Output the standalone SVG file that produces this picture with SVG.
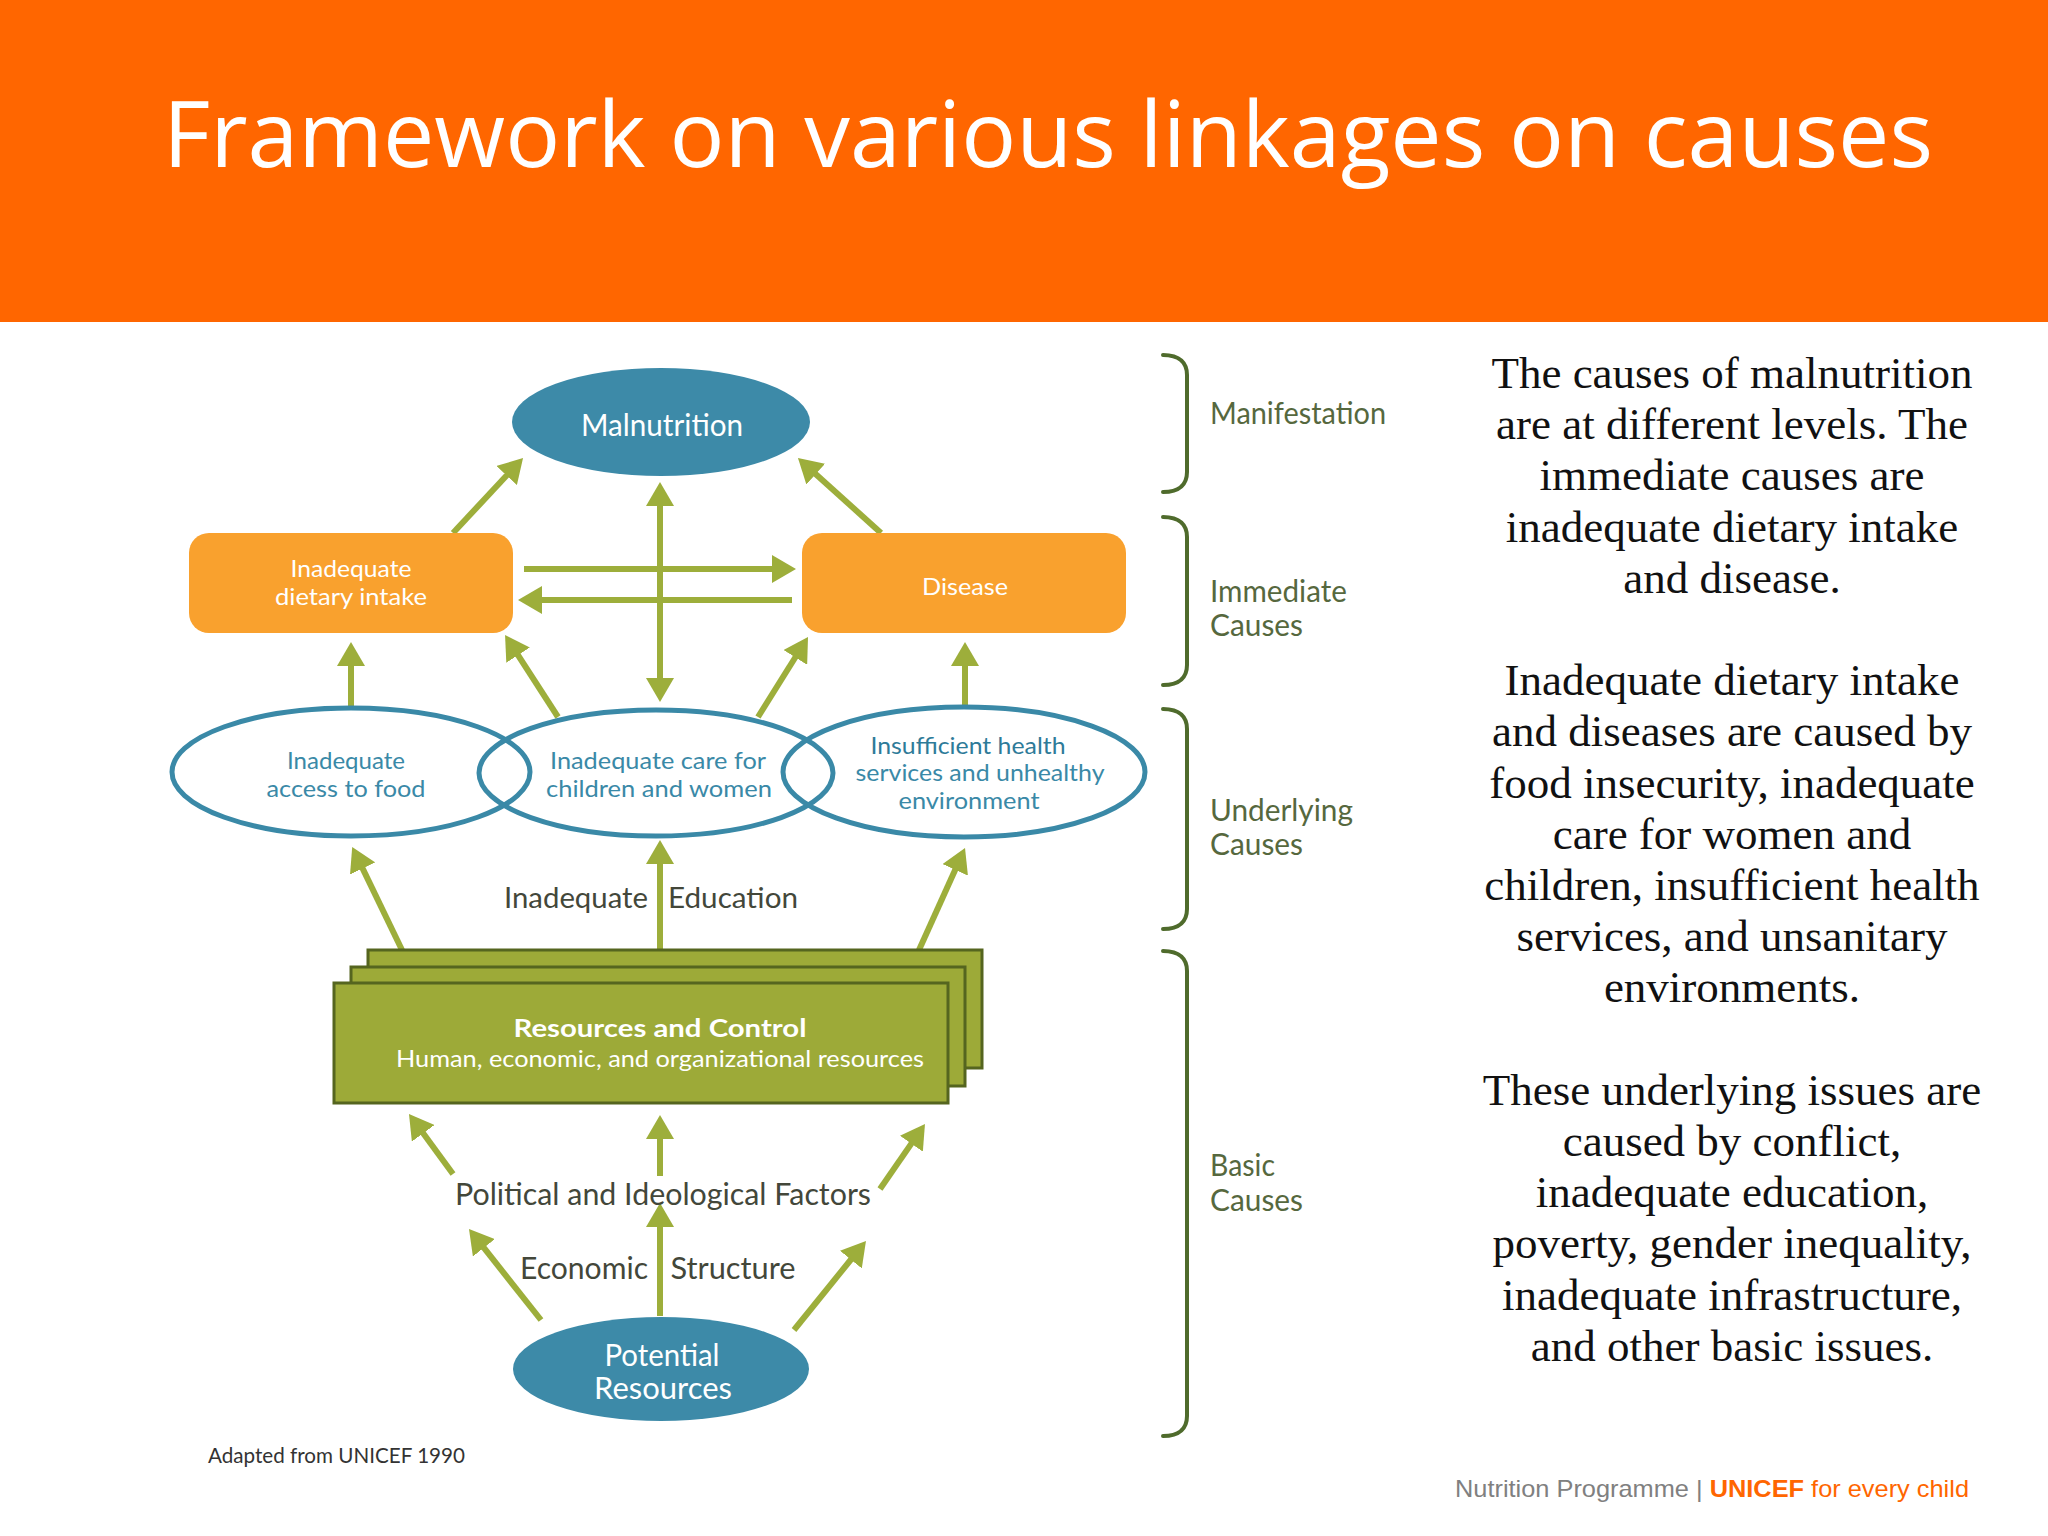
<svg xmlns="http://www.w3.org/2000/svg" width="2048" height="1536" viewBox="0 0 2048 1536">
<defs>
<style>
.arr{stroke:#9DAE3B;stroke-width:6;fill:none;marker-end:url(#ah)}
.dbl{stroke:#9DAE3B;stroke-width:6;fill:none;marker-end:url(#ah);marker-start:url(#ah)}
.brace{stroke:#4F6B2C;stroke-width:4;fill:none;stroke-linecap:round}
.ell{fill:none;stroke:#3A89A7;stroke-width:5}
.tealfill{fill:#3D8AA8}
.obox{fill:#F9A12E}
.rc{fill:#9DAA38;stroke:#55651F;stroke-width:3}
.d{font-family:Lato,"Open Sans","Liberation Sans",sans-serif;text-anchor:middle}
.w{fill:#FFFFFF}
.t{fill:#3A89A7}
.g{fill:#43473A}
.side{font-family:Lato,"Open Sans","Liberation Sans",sans-serif;fill:#56683E;font-size:30px}
.para{font-family:"Liberation Serif","Times New Roman",serif;font-size:45px;fill:#111111;text-anchor:middle}
</style>
<marker id="ah" viewBox="0 0 24 28" markerWidth="24" markerHeight="28" refX="4" refY="14" orient="auto-start-reverse" markerUnits="userSpaceOnUse">
<path d="M0,0 L24,14 L0,28 z" fill="#9DAE3B"/>
</marker>
</defs>
<rect x="0" y="0" width="2048" height="1536" fill="#FFFFFF"/>
<g id="header">
<rect x="0" y="0" width="2048" height="322" fill="#FF6600"/>
<text x="163" y="167" font-family="'Open Sans','Liberation Sans',sans-serif" font-size="92" fill="#FFFFFF" textLength="1770" lengthAdjust="spacingAndGlyphs">Framework on various linkages on causes</text>
</g>
<g id="connectors">
<line class="arr" x1="453" y1="533" x2="509.4" y2="472.6"/>
<line class="arr" x1="881" y1="533" x2="812.8" y2="471.4"/>
<line class="arr" x1="524" y1="569" x2="776" y2="569"/>
<line class="arr" x1="792" y1="600" x2="538" y2="600"/>
<line class="dbl" x1="660" y1="502" x2="660" y2="682"/>
<line class="arr" x1="351" y1="708" x2="351" y2="662"/>
<line class="arr" x1="558" y1="717" x2="515.9" y2="651.8"/>
<line class="arr" x1="758" y1="717" x2="797.4" y2="654"/>
<line class="arr" x1="965" y1="708" x2="965" y2="662"/>
<line class="arr" x1="402" y1="950" x2="360.9" y2="864.9"/>
<line class="arr" x1="660" y1="950" x2="660" y2="860"/>
<line class="arr" x1="919" y1="950" x2="956.8" y2="866.2"/>
<line class="arr" x1="453" y1="1174" x2="420.8" y2="1130.1"/>
<line class="arr" x1="660" y1="1176" x2="660" y2="1135"/>
<line class="arr" x1="880" y1="1189" x2="913.6" y2="1140.4"/>
<line class="arr" x1="541" y1="1320" x2="481.4" y2="1244.7"/>
<line class="arr" x1="660" y1="1316" x2="660" y2="1223"/>
<line class="arr" x1="794" y1="1330" x2="853.4" y2="1256.5"/>
</g>
<g id="malnutrition">
<ellipse class="tealfill" cx="661" cy="422" rx="149" ry="54"/>
<text class="d w" x="662" y="436" font-size="31" textLength="162" lengthAdjust="spacingAndGlyphs">Malnutrition</text>
</g>
<g id="dietary">
<rect class="obox" x="189" y="533" width="324" height="100" rx="20"/>
<text class="d w" x="351" y="577" font-size="24" textLength="121" lengthAdjust="spacingAndGlyphs">Inadequate</text>
<text class="d w" x="351" y="605" font-size="24" textLength="152" lengthAdjust="spacingAndGlyphs">dietary intake</text>
</g>
<g id="disease">
<rect class="obox" x="802" y="533" width="324" height="100" rx="20"/>
<text class="d w" x="965" y="595" font-size="24" textLength="86" lengthAdjust="spacingAndGlyphs">Disease</text>
</g>
<g id="access-food">
<ellipse class="ell" cx="351" cy="772" rx="179" ry="64"/>
<text class="d t" x="346" y="769" font-size="24" textLength="118" lengthAdjust="spacingAndGlyphs">Inadequate</text>
<text class="d t" x="346" y="797" font-size="24" textLength="159" lengthAdjust="spacingAndGlyphs">access to food</text>
</g>
<g id="care">
<ellipse class="ell" cx="656" cy="773" rx="177" ry="63"/>
<text class="d t" x="658" y="769" font-size="24" textLength="216" lengthAdjust="spacingAndGlyphs">Inadequate care for</text>
<text class="d t" x="659" y="797" font-size="24" textLength="226" lengthAdjust="spacingAndGlyphs">children and women</text>
</g>
<g id="health">
<ellipse class="ell" cx="964" cy="772" rx="181" ry="65"/>
<text class="d" x="968" y="754" font-size="24" fill="#2E7B99" textLength="195" lengthAdjust="spacingAndGlyphs">Insufficient health</text>
<text class="d t" x="980" y="781" font-size="24" textLength="249" lengthAdjust="spacingAndGlyphs">services and unhealthy</text>
<text class="d t" x="969" y="809" font-size="24" textLength="141" lengthAdjust="spacingAndGlyphs">environment</text>
</g>
<g id="education-label">
<text class="d g" x="576" y="908" font-size="29" textLength="144" lengthAdjust="spacingAndGlyphs">Inadequate</text>
<text class="d g" x="733" y="908" font-size="29" textLength="130" lengthAdjust="spacingAndGlyphs">Education</text>
</g>
<g id="resources-control">
<rect class="rc" x="368" y="950" width="614" height="118"/>
<rect class="rc" x="351" y="967" width="614" height="119"/>
<rect class="rc" x="334" y="983" width="614" height="120"/>
<text class="d w" x="660" y="1037" font-size="24" font-weight="bold" textLength="293" lengthAdjust="spacingAndGlyphs">Resources and Control</text>
<text class="d w" x="660" y="1067" font-size="23" textLength="528" lengthAdjust="spacingAndGlyphs">Human, economic, and organizational resources</text>
</g>
<g id="political-label">
<text class="d g" x="663" y="1205" font-size="31" textLength="416" lengthAdjust="spacingAndGlyphs">Political and Ideological Factors</text>
</g>
<g id="economic-label">
<text class="d g" x="584" y="1279" font-size="30" textLength="128" lengthAdjust="spacingAndGlyphs">Economic</text>
<text class="d g" x="733" y="1279" font-size="30" textLength="125" lengthAdjust="spacingAndGlyphs">Structure</text>
</g>
<g id="potential-resources">
<ellipse class="tealfill" cx="661" cy="1369" rx="148" ry="52"/>
<text class="d w" x="662" y="1366" font-size="30" textLength="115" lengthAdjust="spacingAndGlyphs">Potential</text>
<text class="d w" x="663" y="1399" font-size="30" textLength="138" lengthAdjust="spacingAndGlyphs">Resources</text>
</g>
<g id="source">
<text x="208" y="1463" font-family="Lato,'Open Sans','Liberation Sans',sans-serif" font-size="22" fill="#333333" textLength="257" lengthAdjust="spacingAndGlyphs">Adapted from UNICEF 1990</text>
</g>
<g id="levels">
<path class="brace" d="M1163,355 C1180,355 1187,363 1187,375 L1187,472 C1187,484 1180,492 1163,492"/>
<path class="brace" d="M1163,517 C1180,517 1187,525 1187,537 L1187,665 C1187,677 1180,685 1163,685"/>
<path class="brace" d="M1163,709 C1180,709 1187,717 1187,729 L1187,909 C1187,921 1180,929 1163,929"/>
<path class="brace" d="M1163,951 C1180,951 1187,959 1187,971 L1187,1416 C1187,1428 1180,1436 1163,1436"/>
<text class="side" x="1210" y="424" textLength="176" lengthAdjust="spacingAndGlyphs">Manifestation</text>
<text class="side" x="1210" y="602" textLength="137" lengthAdjust="spacingAndGlyphs">Immediate</text>
<text class="side" x="1210" y="636" textLength="93" lengthAdjust="spacingAndGlyphs">Causes</text>
<text class="side" x="1210" y="821" textLength="143" lengthAdjust="spacingAndGlyphs">Underlying</text>
<text class="side" x="1210" y="855" textLength="93" lengthAdjust="spacingAndGlyphs">Causes</text>
<text class="side" x="1210" y="1176" textLength="65" lengthAdjust="spacingAndGlyphs">Basic</text>
<text class="side" x="1210" y="1211" textLength="93" lengthAdjust="spacingAndGlyphs">Causes</text>
</g>
<g id="explanation">
<text class="para" x="1732" y="388">The causes of malnutrition</text>
<text class="para" x="1732" y="439">are at different levels. The</text>
<text class="para" x="1732" y="490">immediate causes are</text>
<text class="para" x="1732" y="542">inadequate dietary intake</text>
<text class="para" x="1732" y="593">and disease.</text>
<text class="para" x="1732" y="695">Inadequate dietary intake</text>
<text class="para" x="1732" y="746">and diseases are caused by</text>
<text class="para" x="1732" y="798">food insecurity, inadequate</text>
<text class="para" x="1732" y="849">care for women and</text>
<text class="para" x="1732" y="900">children, insufficient health</text>
<text class="para" x="1732" y="951">services, and unsanitary</text>
<text class="para" x="1732" y="1002">environments.</text>
<text class="para" x="1732" y="1105">These underlying issues are</text>
<text class="para" x="1732" y="1156">caused by conflict,</text>
<text class="para" x="1732" y="1207">inadequate education,</text>
<text class="para" x="1732" y="1258">poverty, gender inequality,</text>
<text class="para" x="1732" y="1310">inadequate infrastructure,</text>
<text class="para" x="1732" y="1361">and other basic issues.</text>
</g>
<g id="footer">
<text x="1455" y="1497" font-family="'Liberation Sans',Arial,sans-serif" font-size="24" textLength="514" lengthAdjust="spacingAndGlyphs"><tspan fill="#808080">Nutrition Programme | </tspan><tspan fill="#FF6600" font-weight="bold">UNICEF</tspan><tspan fill="#FF6600"> for every child</tspan></text>
</g>
</svg>
